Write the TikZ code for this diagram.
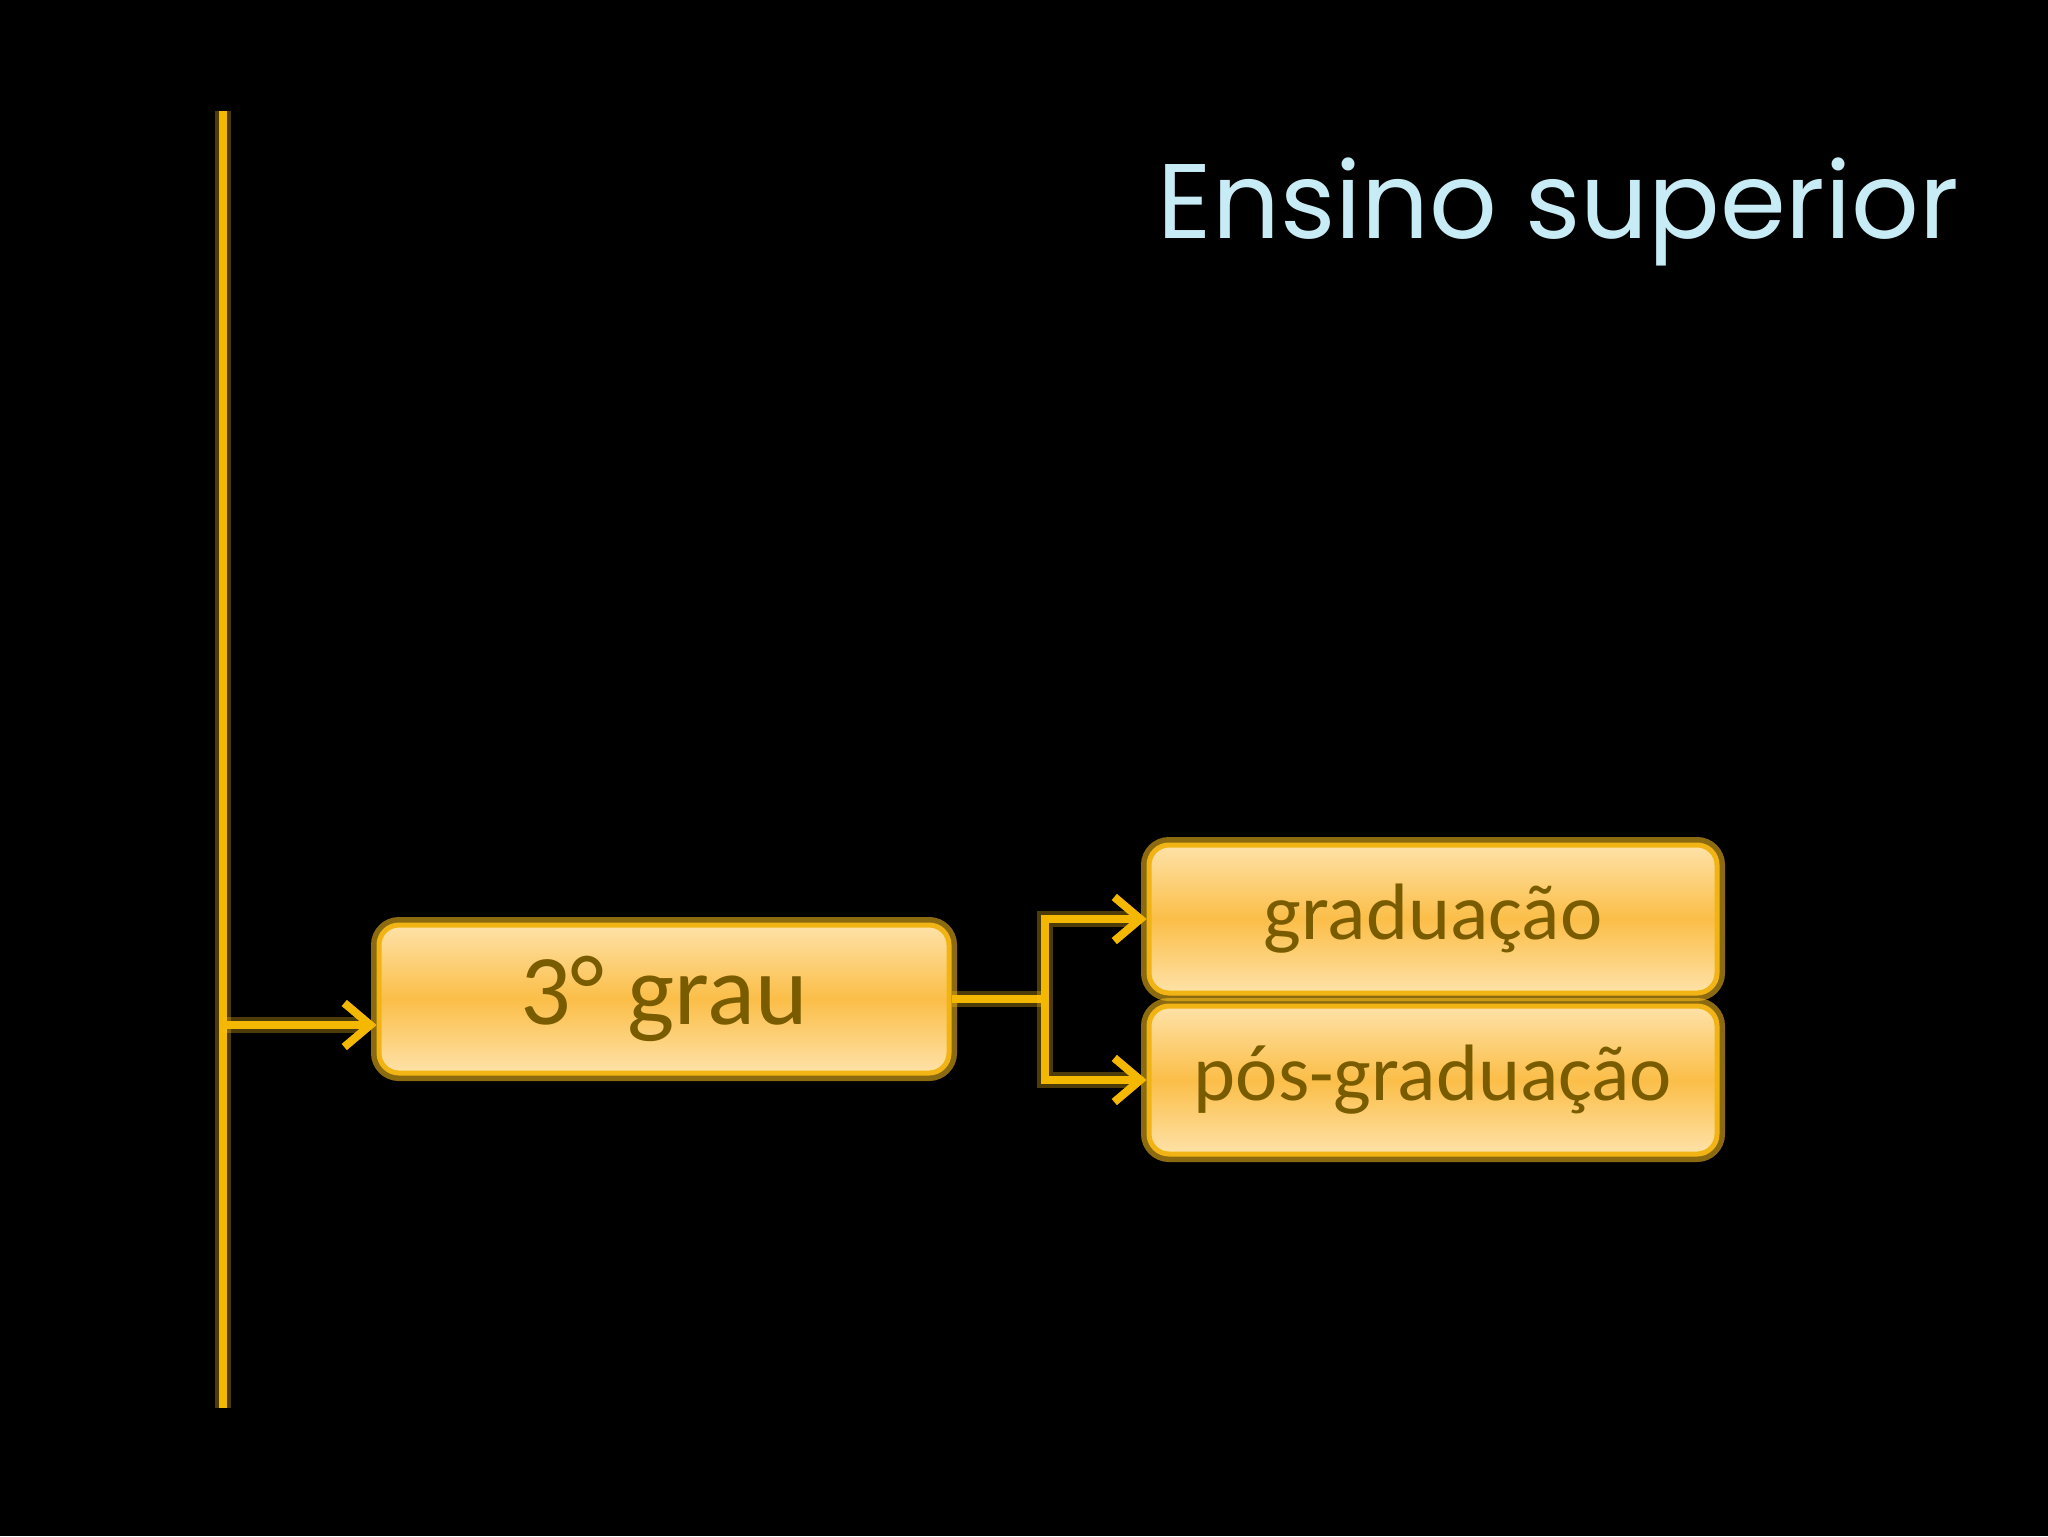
\documentclass[tikz,border=0pt]{standalone}
\usepackage{fontspec}
\setmainfont{Carlito}
\newfontfamily\titlefont{Poppins}
\usetikzlibrary{arrows.meta,positioning}

\definecolor{linha}{RGB}{245,184,0}
\definecolor{brilho}{RGB}{255,196,30}
\definecolor{caixaborda}{RGB}{242,180,20}
\definecolor{caixaclaro}{RGB}{254,226,168}
\definecolor{caixameio}{RGB}{251,190,72}
\definecolor{textocaixa}{RGB}{122,92,0}
\definecolor{titulocor}{RGB}{200,236,246}

\tikzset{
    seta/.style={draw=linha, line width=4pt, -{Straight Barb[length=13pt,width=22pt,line width=4pt]},
        preaction={draw=brilho, line width=8pt, opacity=0.3}},
    fio/.style={draw=linha, line width=4pt,
        preaction={draw=brilho, line width=8pt, opacity=0.3}},
    caixa/.style={rectangle, rounded corners=10pt, draw=caixaborda, line width=2.5pt,
        top color=caixaclaro, bottom color=caixaclaro, middle color=caixameio,
        text=textocaixa, inner sep=0pt,
        preaction={draw=brilho, line width=8pt, opacity=0.55}}
}

\begin{document}
\begin{tikzpicture}[x=0.5pt, y=-0.5pt]
    % fundo
    \fill[black] (0,0) rectangle (2048,1536);

    \node[anchor=base east, text=titulocor, font=\titlefont\fontsize{53}{58}\selectfont] (titulo) at (1966,238) {Ensino superior};

    % linha do tempo
    \coordinate (topo) at (223,111);
    \coordinate (base) at (223,1408);
    \coordinate (saida) at (223,1025);
    \draw[fio] (topo) -- (base);

    \node[caixa, minimum width=285pt, minimum height=74pt, font=\fontsize{50}{54}\selectfont] (grau) at (664,999) {3° grau};
    \node[caixa, minimum width=284pt, minimum height=74pt, font=\fontsize{40}{44}\selectfont] (grad) at (1433,919) {graduação};
    \node[caixa, minimum width=284pt, minimum height=74pt, font=\fontsize{40}{44}\selectfont] (posgrad) at (1433,1080) {pós-graduação};

    \draw[seta] (saida) -- (grau.west |- saida);

    \coordinate (ramo) at (1045,999);
    \draw[fio] (grau.east) -- (ramo);
    \draw[seta] (ramo) |- (grad.west);
    \draw[seta] (ramo) |- (posgrad.west);
\end{tikzpicture}
\end{document}
